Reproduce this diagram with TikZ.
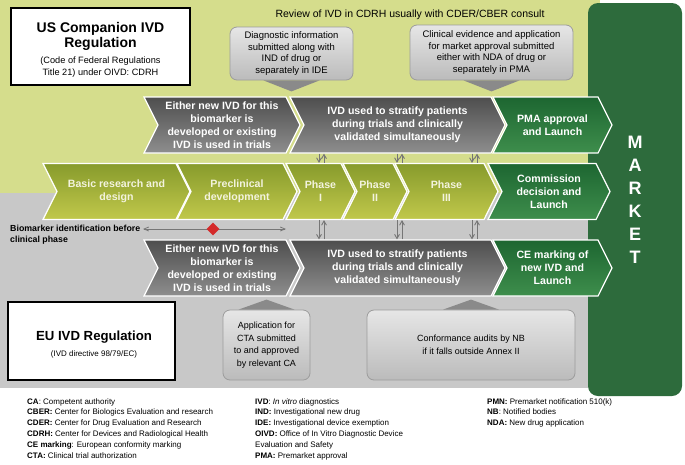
\documentclass[tikz,border=0pt]{standalone}
\usepackage{fontspec}
\setmainfont{Liberation Sans}
\usetikzlibrary{shapes,arrows}
\definecolor{usbg}{HTML}{D5DD8C}
\definecolor{eubg}{HTML}{C8C8C8}
\definecolor{mktgreen}{HTML}{2D6B3C}
\definecolor{greyA}{HTML}{4E4E4E}
\definecolor{greyB}{HTML}{8E8E8E}
\definecolor{greenA}{HTML}{1D6631}
\definecolor{greenB}{HTML}{3E8E4C}
\definecolor{oliveA}{HTML}{879B2C}
\definecolor{oliveB}{HTML}{C1C84B}
\definecolor{cream}{HTML}{F3F3DE}
\definecolor{callA}{HTML}{E6E6E6}
\definecolor{callB}{HTML}{BBBBBB}
\definecolor{callline}{HTML}{9C9C9C}
\definecolor{pointgrey}{HTML}{8A8A8A}
\definecolor{arrowgrey}{HTML}{767676}
\definecolor{diamondred}{HTML}{D42A2A}

\begin{document}
\begin{tikzpicture}[x=1pt,y=-1pt,
  chev/.style={shape=signal, signal from=west, signal to=east, signal pointer angle=127, draw=white, line width=1.2pt, minimum height=56pt, inner sep=0pt, align=center, font=\fontsize{10.6}{13}\selectfont\bfseries},
  greychev/.style={chev, top color=greyA, bottom color=greyB, text=white},
  greenchev/.style={chev, top color=greenA, bottom color=greenB, text=white},
  olivechev/.style={chev, top color=oliveA, bottom color=oliveB, text=cream},
  callout/.style={shape=rectangle, rounded corners=7pt, draw=callline, line width=0.8pt, top color=callA, bottom color=callB, align=center, inner sep=0pt},
  regbox/.style={shape=rectangle, draw=black, line width=1.5pt, fill=white, inner sep=0pt},
  pointer/.style={fill=pointgrey},
  updn/.style={->, >=angle 60, draw=arrowgrey, line width=0.9pt},
  legend/.style={anchor=north west, align=left, inner sep=0pt, font=\fontsize{8}{10.9}\selectfont}]
\useasboundingbox (0,0) rectangle (685,464);

\fill [usbg] (0,0) rectangle (600,193);
\fill [eubg] (0,193) rectangle (600,388);
\node (mkt) at (635,199.5) [shape=rectangle, rounded corners=10pt, fill=mktgreen, minimum width=94pt, minimum height=393pt, text=white, align=center, font=\fontsize{18}{23}\selectfont\bfseries] {M\\A\\R\\K\\E\\T};

\node (rev) at (410,15) [font=\fontsize{10.5}{12}\selectfont] {Review of IVD in CDRH usually with CDER/CBER consult};
\node (us) at (100.5,46.5) [regbox, minimum width=179pt, minimum height=77pt] {};
\node (ustxt) at (100.5,50) [align=center, font=\fontsize{14}{15.5}\selectfont\bfseries] {US Companion IVD\\Regulation\\{\mdseries\fontsize{9.2}{11}\selectfont(Code of Federal Regulations}\\[-3pt]{\mdseries\fontsize{9.2}{11}\selectfont Title 21) under OIVD: CDRH}};
\node (eu) at (91.5,341) [regbox, minimum width=167pt, minimum height=78pt] {};
\node (eutxt) at (94,345) [align=center, font=\fontsize{13.2}{16}\selectfont\bfseries] {EU IVD Regulation\\{\mdseries\fontsize{8}{10}\selectfont(IVD directive 98/79/EC)}};

\node (u1) at (222,125) [greychev, minimum width=156pt] {Either new IVD for this\\biomarker is\\developed or existing\\IVD is used in trials};
\node (u2) at (397.5,125) [greychev, minimum width=215pt] {IVD used to stratify patients\\during trials and clinically\\validated simultaneously};
\node (u3) at (552.5,125) [greenchev, minimum width=119pt] {PMA approval\\and Launch};

\node (m1) at (116.5,191.5) [olivechev, minimum width=147pt] {Basic research and\\design};
\node (m2) at (237,191.5) [olivechev, minimum width=120pt] {Preclinical\\development};
\node (m3) at (320.5,191.5) [olivechev, minimum width=69pt] {Phase\\I};
\node (m4) at (375,191.5) [olivechev, minimum width=64pt] {Phase\\II};
\node (m5) at (446.5,191.5) [olivechev, minimum width=103pt] {Phase\\III};
\node (m6) at (549,191.5) [greenchev, minimum width=122pt] {Commission\\decision and\\Launch};

\node (e1) at (222,268) [greychev, minimum width=156pt] {Either new IVD for this\\biomarker is\\developed or existing\\IVD is used in trials};
\node (e2) at (397.5,268) [greychev, minimum width=215pt] {IVD used to stratify patients\\during trials and clinically\\validated simultaneously};
\node (e3) at (552.5,268) [greenchev, minimum width=119pt] {CE marking of\\new IVD and\\Launch};

\node (c1) at (291.5,53.5) [callout, minimum width=123pt, minimum height=53pt, font=\fontsize{9.5}{11.7}\selectfont] {Diagnostic information\\submitted along with\\IND of drug or\\separately in IDE};
\node (c2) at (491.5,52.5) [callout, minimum width=163pt, minimum height=55pt, font=\fontsize{9.5}{11.7}\selectfont] {Clinical evidence and application\\for market approval submitted\\either with NDA of drug or\\separately in PMA};
\node (c3) at (266.5,345) [callout, minimum width=87pt, minimum height=70pt, font=\fontsize{9}{12.5}\selectfont] {Application for\\CTA submitted\\to and approved\\by relevant CA};
\node (c4) at (471,345) [callout, minimum width=208pt, minimum height=70pt, font=\fontsize{9}{12.5}\selectfont] {Conformance audits by NB\\if it falls outside Annex II};

\fill [pointer] ([xshift=-28pt]c1.south) -- ([xshift=28pt]c1.south) -- ([yshift=5pt]c1.south |- u1.north) -- cycle;
\fill [pointer] ([xshift=-28pt]c2.south) -- ([xshift=28pt]c2.south) -- ([yshift=5pt]c2.south |- u2.north) -- cycle;
\fill [pointer] ([xshift=-28pt]c3.north) -- ([xshift=28pt]c3.north) -- ([yshift=-3pt]c3.north |- e1.south) -- cycle;
\fill [pointer] ([xshift=-28pt]c4.north) -- ([xshift=28pt]c4.north) -- ([yshift=-3pt]c4.north |- e2.south) -- cycle;

\coordinate (q1) at (319,0);
\coordinate (r1) at (324,0);
\coordinate (q2) at (397,0);
\coordinate (r2) at (402,0);
\coordinate (q3) at (472,0);
\coordinate (r3) at (477,0);
\draw [updn] (u2.south -| q1) -- (m3.north -| q1);
\draw [updn] (m3.north -| r1) -- (u2.south -| r1);
\draw [updn] (u2.south -| q2) -- (m4.north -| q2);
\draw [updn] (m4.north -| r2) -- (u2.south -| r2);
\draw [updn] (u2.south -| q3) -- (m5.north -| q3);
\draw [updn] (m5.north -| r3) -- (u2.south -| r3);
\draw [updn] (m3.south -| q1) -- (e2.north -| q1);
\draw [updn] (e2.north -| r1) -- (m3.south -| r1);
\draw [updn] (m4.south -| q2) -- (e2.north -| q2);
\draw [updn] (e2.north -| r2) -- (m4.south -| r2);
\draw [updn] (m5.south -| q3) -- (e2.north -| q3);
\draw [updn] (e2.north -| r3) -- (m5.south -| r3);

\node (bm) at (10,235) [anchor=west, align=left, inner sep=0pt, font=\fontsize{8.8}{11}\selectfont\bfseries] {Biomarker identification before\\clinical phase};
\coordinate (b1) at (143,229);
\coordinate (b2) at (286,229);
\draw [<->, >=angle 45, draw=arrowgrey, line width=0.8pt] (b1) -- (b2);
\node (rd) at (213,229) [shape=diamond, fill=diamondred, minimum size=13pt, inner sep=0pt] {};

\node (lg1) at (27,398) [legend] {\textbf{CA}: Competent authority\\\textbf{CBER:} Center for Biologics Evaluation and research\\\textbf{CDER:} Center for Drug Evaluation and Research\\\textbf{CDRH:} Center for Devices and Radiological Health\\\textbf{CE marking}: European conformity marking\\\textbf{CTA:} Clinical trial authorization};
\node (lg2) at (255,398) [legend] {\textbf{IVD}: \textit{In vitro} diagnostics\\\textbf{IND:} Investigational new drug\\\textbf{IDE:} Investigational device exemption\\\textbf{OIVD:} Office of In Vitro Diagnostic Device\\Evaluation and Safety\\\textbf{PMA:} Premarket approval};
\node (lg3) at (487,398) [legend] {\textbf{PMN:} Premarket notification 510(k)\\\textbf{NB}: Notified bodies\\\textbf{NDA:} New drug application};
\end{tikzpicture}
\end{document}
